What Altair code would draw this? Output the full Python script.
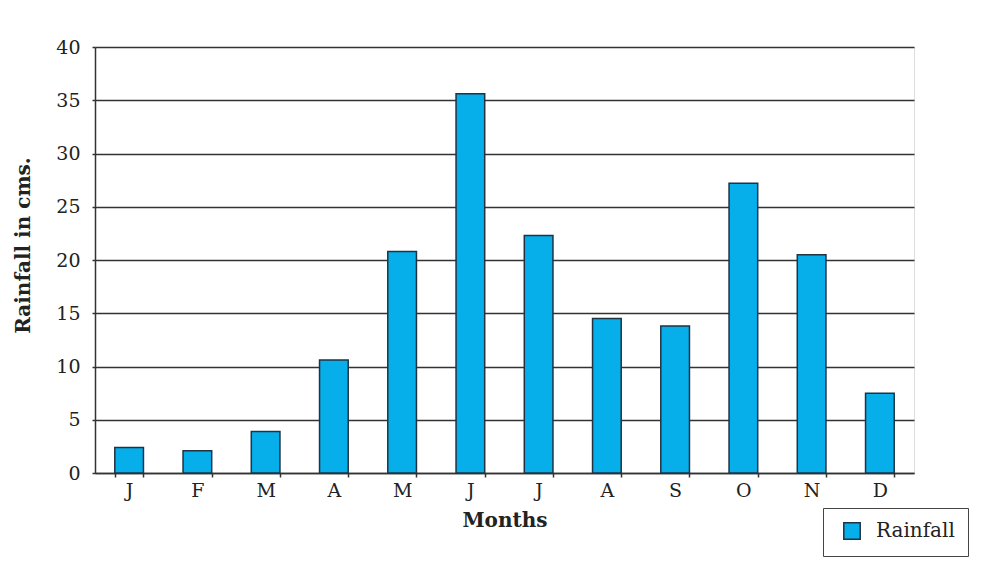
import altair as alt
import pandas as pd

months = ["Jan", "Feb", "Mar", "Apr", "May", "Jun",
          "Jul", "Aug", "Sep", "Oct", "Nov", "Dec"]
rainfall = [2.4, 2.1, 3.9, 10.6, 20.8, 35.6, 22.3, 14.5, 13.8, 27.2, 20.5, 7.5]
series = ["Rainfall"] * len(months)
y_ticks = [0, 5, 10, 15, 20, 25, 30, 35, 40]

df = pd.DataFrame({"month": months, "rain": rainfall, "series": series})

FONT = "DejaVu Serif"
DARK = "#333333"

chart = alt.Chart(df).mark_bar(
    stroke="#1f3345", strokeWidth=1.5
).encode(
    x=alt.X(
        "month:N", sort=months,
        scale=alt.Scale(paddingInner=0.58, paddingOuter=0.29),
        axis=alt.Axis(
            title="Months", labelAngle=0,
            labelExpr="substring(datum.label, 0, 1)",
            tickBand="extent", tickSize=4, tickColor=DARK, tickWidth=1.5,
            domainColor=DARK, domainWidth=1.5,
            labelFont=FONT, labelFontSize=19, labelColor="#222222", labelPadding=4,
            titleFont=FONT, titleFontSize=20, titleFontWeight="bold", titleColor="#222222",
            titleY=47, titleBaseline="middle",
        ),
    ),
    y=alt.Y(
        "rain:Q",
        scale=alt.Scale(domain=[0, 40], nice=False),
        axis=alt.Axis(
            title="Rainfall in cms.", values=y_ticks,
            grid=True, gridColor=DARK, gridWidth=1.5,
            tickSize=3, tickColor=DARK, tickWidth=1.5,
            domainColor=DARK, domainWidth=1.5,
            labelFont=FONT, labelFontSize=19, labelColor="#222222", labelPadding=12,
            titleFont=FONT, titleFontSize=20, titleFontWeight="bold", titleColor="#222222",
            titleX=-72, titleY=198, titleAlign="center", titleBaseline="middle",
        ),
    ),
    color=alt.Color(
        "series:N",
        scale=alt.Scale(range=["#06AEEA"]),
        legend=alt.Legend(
            title=None, orient="none", legendX=728, legendY=461,
            symbolType="square", symbolSize=270, symbolStrokeColor="#1f3345",
            symbolStrokeWidth=1.5, symbolOpacity=1,
            labelFont=FONT, labelFontSize=20, labelColor="#222222", labelOffset=14,
            padding=13, strokeColor="#444444", fillColor="white",
            symbolOffset=6,
        ),
    ),
).properties(
    width=819, height=426,
    autosize=alt.AutoSizeParams(type="none"),
    padding={"left": 87, "top": 39, "right": 83, "bottom": 100},
).configure_view(
    stroke=DARK, strokeWidth=1.5
).configure(background="white")

chart.save("out.html", embed_options={"renderer": "svg", "actions": False})
